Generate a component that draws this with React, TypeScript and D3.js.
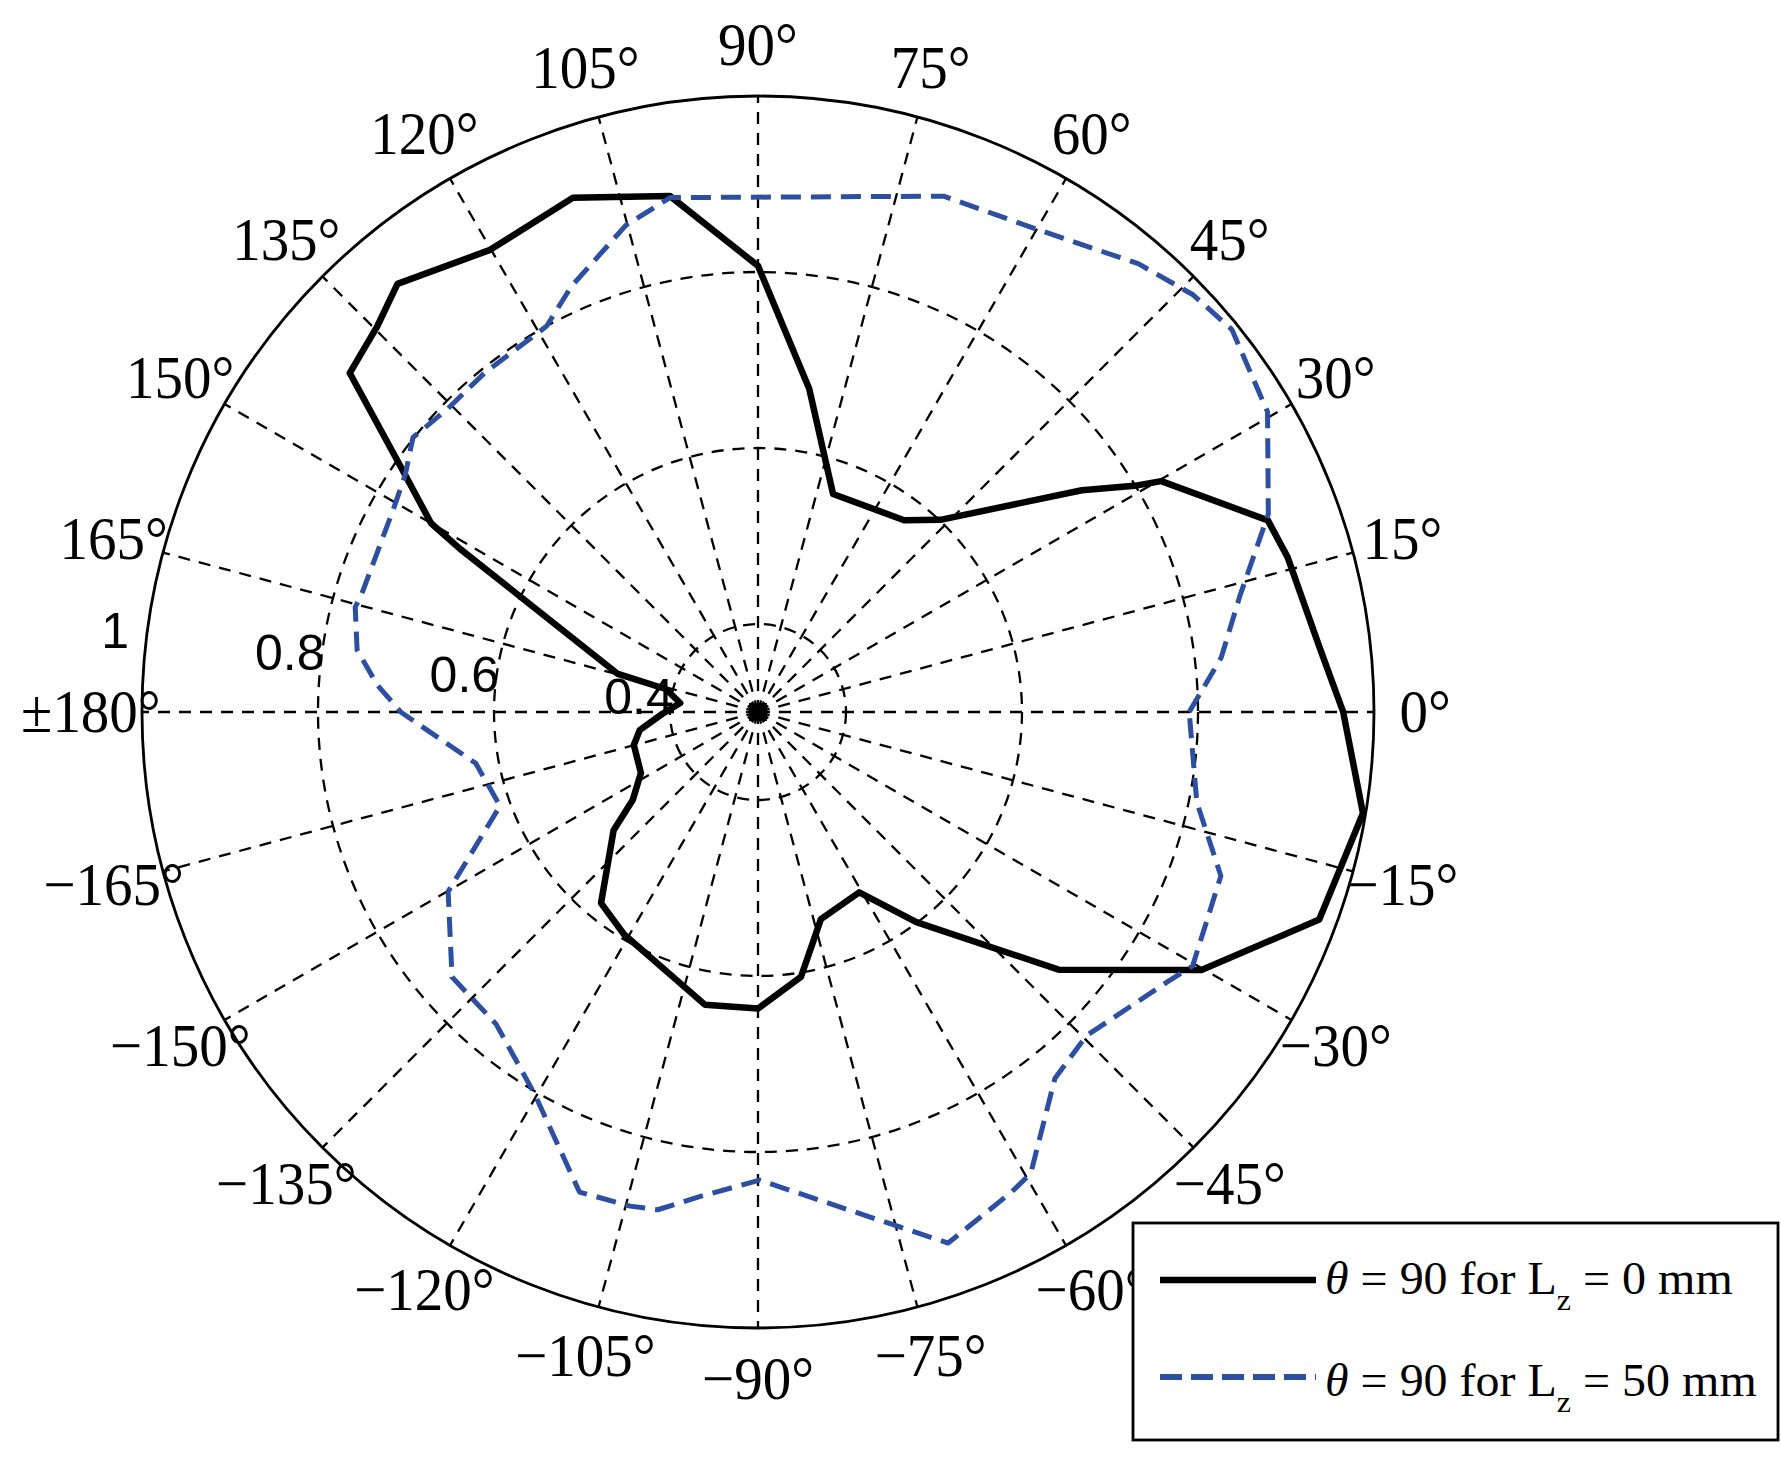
import React from "react";
import * as d3 from "d3";

const W = 1781;
const H = 1462;
const CX = 758;
const CY = 712;
const R = 616;

const rMin = 0.3;
const rMax = 1;
const rGridValues = [0.4, 0.6, 0.8];
const rTickValues = [0.4, 0.6, 0.8, 1];
const rTickLabels = ["0.4", "0.6", "0.8", "1"];

const angleTicks = [0, 15, 30, 45, 60, 75, 90, 105, 120, 135, 150, 165, 180, 195, 210, 225, 240, 255, 270, 285, 300, 315, 330, 345];
const angleTickLabels = [
  "0°", "15°", "30°", "45°", "60°", "75°", "90°", "105°", "120°", "135°", "150°", "165°",
  "±180°", "−165°", "−150°", "−135°", "−120°", "−105°", "−90°", "−75°", "−60°", "−45°", "−30°", "−15°",
];

// θ = 90 for Lz = 0 mm (black, solid)
const blackAngles = [
  0, 6.7, 16.3, 20.6, 29.8, 31.0, 34.4, 46.5, 52.7, 71.0, 81.0, 90.0, 99.7, 109.8, 120.1, 130.1,
  134.6, 140.3, 146.1, 150.0, 151.3, 164.8, 166.0, 173.4, 181.2, 188.7, 194.9, 207.5, 215.1, 219.3,
  230.6, 238.9, 259.7, 270.0, 279.2, 286.9, 299.3, 307.0, 319.4, 329.8, 339.7, 350.5,
];
const blackValues = [
  0.965, 0.942, 0.927, 0.919, 0.828, 0.799, 0.746, 0.601, 0.574, 0.562, 0.672, 0.807, 0.895, 0.921, 0.907, 0.936,
  0.916, 0.903, 0.783, 0.729, 0.686, 0.465, 0.408, 0.389, 0.409, 0.436, 0.446, 0.450, 0.474, 0.512,
  0.581, 0.595, 0.638, 0.637, 0.605, 0.546, 0.535, 0.599, 0.750, 0.883, 0.980, 0.997,
];

// θ = 90 for Lz = 50 mm (blue, dashed)
const blueAngles = [
  0, 6.7, 13.5, 21.2, 30.5, 38.9, 43.8, 49.7, 60.2, 70.2, 99.7, 105.2, 113.7, 118.7, 128.9, 135.6,
  141.5, 146.1, 151.0, 163.7, 165.4, 171.2, 175.9, 180.0, 190.3, 200.0, 210.1, 220.9, 230.0, 239.7,
  249.6, 255.5, 258.6, 263.3, 270.2, 285.4, 289.7, 297.8, 300.6, 309.0, 315.4, 326.8, 329.7, 340.5, 348.4,
];
const blueValues = [
  0.790, 0.830, 0.863, 0.922, 0.972, 0.992, 0.985, 0.968, 0.933, 0.923, 0.893, 0.873, 0.828, 0.800, 0.795, 0.793,
  0.801, 0.783, 0.774, 0.770, 0.773, 0.761, 0.734, 0.706, 0.626, 0.612, 0.707, 0.760, 0.763, 0.803,
  0.882, 0.880, 0.877, 0.854, 0.832, 0.907, 0.941, 0.917, 0.909, 0.836, 0.824, 0.858, 0.872, 0.858, 0.809,
];

const seriesNames = ["0", "50"];
const BLUE = "#2c4fa2";
const SERIF = "'Liberation Serif', 'Times New Roman', Times, serif";
const SANS = "'Liberation Sans', Arial, Helvetica, sans-serif";

const toRad = (deg: number) => (deg * Math.PI) / 180;

export default function App() {
  const r = d3.scaleLinear().domain([rMin, rMax]).range([0, R]);
  const pt = (deg: number, rad: number): [number, number] => [rad * Math.cos(toRad(deg)), -rad * Math.sin(toRad(deg))];

  const radial = d3
    .lineRadial<[number, number]>()
    .angle((d) => toRad(90 - d[0]))
    .radius((d) => r(d[1]))
    .curve(d3.curveLinearClosed);

  const blackData = blackAngles.map((a, i) => [a, blackValues[i]] as [number, number]);
  const blueData = blueAngles.map((a, i) => [a, blueValues[i]] as [number, number]);

  const labelR = R * 1.083;
  const rLabelAngle = 172.8;

  return (
    <svg
      width={W}
      height={H}
      viewBox={`0 0 ${W} ${H}`}
      style={{ position: "absolute", left: 0, top: 0, display: "block", background: "#fff" }}
    >
      <rect x={0} y={0} width={W} height={H} fill="#fff" />
      <g transform={`translate(${CX},${CY})`}>
        {/* grid rings */}
        {rGridValues.map((v) => (
          <circle key={v} r={r(v)} fill="none" stroke="#000" strokeWidth={2.3} strokeDasharray="12,9" />
        ))}
        {/* spokes */}
        {angleTicks.map((a) => {
          const [x, y] = pt(a, R);
          return <line key={a} x1={0} y1={0} x2={x} y2={y} stroke="#000" strokeWidth={2.3} strokeDasharray="12,9" />;
        })}
        <rect x={-9} y={-9} width={18} height={18} fill="#000" />
        {/* outer circle */}
        <circle r={r(rMax)} fill="none" stroke="#000" strokeWidth={2.8} />
        {/* angle labels */}
        {angleTicks.map((a, i) => {
          const [x, y] = pt(a, labelR);
          return (
            <g key={a} transform={`translate(${x},${y}) scale(1,1.06)`}>
              <text
                x={0}
                y={0}
                textAnchor="middle"
                dominantBaseline="central"
                fontFamily={SERIF}
                fontSize={57}
                fill="#000"
              >
                {angleTickLabels[i]}
              </text>
            </g>
          );
        })}
        {/* radial labels */}
        {rTickValues.map((v, i) => {
          const [x, y] = pt(rLabelAngle, r(v) + 32);
          return (
            <text
              key={v}
              x={x}
              y={y}
              textAnchor="middle"
              dominantBaseline="central"
              fontFamily={SANS}
              fontSize={50}
              fill="#000"
            >
              {rTickLabels[i]}
            </text>
          );
        })}
        {/* data */}
        <path d={radial(blackData) ?? ""} fill="none" stroke="#000" strokeWidth={6.5} strokeLinejoin="round" />
        <path d={radial(blueData) ?? ""} fill="none" stroke={BLUE} strokeWidth={5} strokeDasharray="20,10" strokeLinejoin="round" />
      </g>

      {/* legend */}
      <g>
        <rect x={1133} y={1223} width={645} height={217} fill="#fff" stroke="#000" strokeWidth={2.8} />
        <line x1={1160} y1={1280} x2={1316} y2={1280} stroke="#000" strokeWidth={6.5} />
        <line x1={1160} y1={1377} x2={1316} y2={1377} stroke={BLUE} strokeWidth={6} strokeDasharray="22,9" />
        {seriesNames.map((n, i) => (
          <g key={n} transform={`translate(1325,${1294 + i * 102}) scale(1,0.95)`}>
            <text x={0} y={0} fontFamily={SERIF} fontSize={48} fill="#000">
              <tspan fontStyle="italic">θ</tspan>
              <tspan> = 90 for L</tspan>
              <tspan fontSize={32} dy={17}>z</tspan>
              <tspan dy={-17}>{` = ${n} mm`}</tspan>
            </text>
          </g>
        ))}
      </g>
    </svg>
  );
}
